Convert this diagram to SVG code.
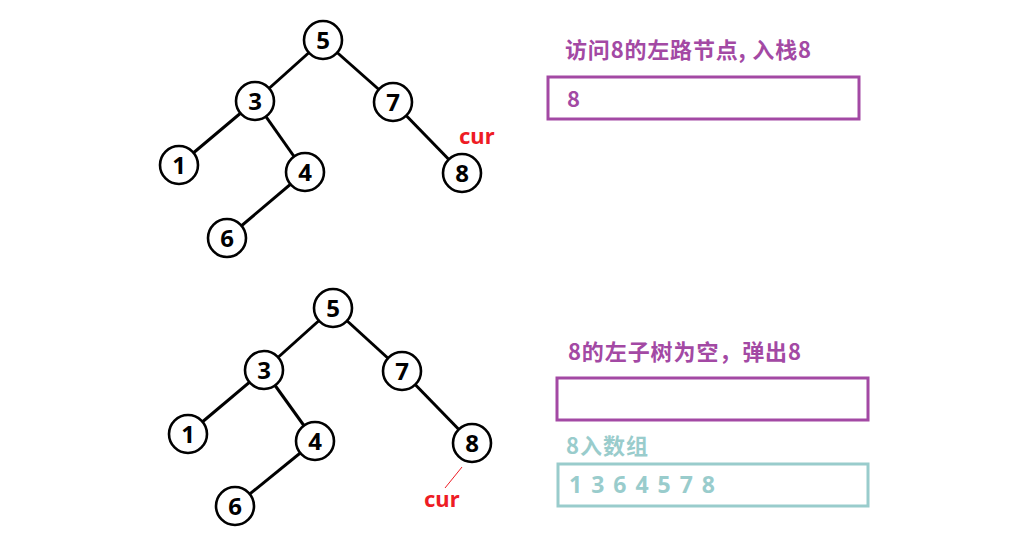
<svg xmlns="http://www.w3.org/2000/svg" width="1025" height="538" viewBox="0 0 1025 538">
<style>
.node circle{fill:#fff;stroke:#000;stroke-width:2.6}
.node text{font-family:"Noto Sans","Liberation Sans",sans-serif;font-weight:bold;font-size:24px;fill:#000;text-anchor:middle}
.edges line{stroke:#000;stroke-width:3}
.cur{font-family:"Noto Sans","Liberation Sans",sans-serif;font-weight:bold;font-size:22px;fill:#ee1c25}
.lbl{font-family:"Noto Sans CJK SC","Noto Sans",sans-serif;font-weight:bold;font-size:22px}
.purple{fill:#a349a4}
.teal{fill:#99cccc}
.box{fill:#fff;stroke-width:3}
</style>
<rect width="1025" height="538" fill="#fff"/>
<!-- top tree -->
<g class="edges" id="edges-top">
<line x1="323" y1="40" x2="255" y2="101"/>
<line x1="323" y1="40" x2="393" y2="102"/>
<line x1="255" y1="101" x2="179" y2="165"/>
<line x1="255" y1="101" x2="305" y2="172"/>
<line x1="393" y1="102" x2="462" y2="173"/>
<line x1="305" y1="172" x2="227" y2="238"/>
</g>
<g class="node" id="t5"><circle cx="323" cy="40" r="19"/><text x="323" y="48.5">5</text></g>
<g class="node" id="t3"><circle cx="255" cy="101" r="19"/><text x="255" y="109.5">3</text></g>
<g class="node" id="t7"><circle cx="393" cy="102" r="19"/><text x="393" y="110.5">7</text></g>
<g class="node" id="t1"><circle cx="179" cy="165" r="19"/><text x="179" y="173.5">1</text></g>
<g class="node" id="t4"><circle cx="305" cy="172" r="19"/><text x="305" y="180.5">4</text></g>
<g class="node" id="t8"><circle cx="462" cy="173" r="19"/><text x="462" y="181.5">8</text></g>
<g class="node" id="t6"><circle cx="227" cy="238" r="19"/><text x="227" y="246.5">6</text></g>
<text class="cur" x="459" y="144">cur</text>

<g id="stack-top">
<text class="lbl purple" x="565" y="58" textLength="246">访问8的左路节点, 入栈8</text>
<rect class="box" x="548" y="77" width="311" height="42" stroke="#a349a4"/>
<text class="lbl purple" x="567" y="107">8</text>
</g>

<!-- bottom tree -->
<g class="edges" id="edges-bottom">
<line x1="333" y1="308" x2="264" y2="370"/>
<line x1="333" y1="308" x2="402" y2="371"/>
<line x1="264" y1="370" x2="188" y2="434"/>
<line x1="264" y1="370" x2="315" y2="441"/>
<line x1="402" y1="371" x2="472" y2="443"/>
<line x1="315" y1="441" x2="235" y2="506"/>
<line x1="462" y1="467" x2="445" y2="488" style="stroke:#ee1c25;stroke-width:1"/>
</g>
<g class="node" id="b5"><circle cx="333" cy="308" r="19"/><text x="333" y="316.5">5</text></g>
<g class="node" id="b3"><circle cx="264" cy="370" r="19"/><text x="264" y="378.5">3</text></g>
<g class="node" id="b7"><circle cx="402" cy="371" r="19"/><text x="402" y="379.5">7</text></g>
<g class="node" id="b1"><circle cx="188" cy="434" r="19"/><text x="188" y="442.5">1</text></g>
<g class="node" id="b4"><circle cx="315" cy="441" r="19"/><text x="315" y="449.5">4</text></g>
<g class="node" id="b8"><circle cx="472" cy="443" r="19"/><text x="472" y="451.5">8</text></g>
<g class="node" id="b6"><circle cx="235" cy="506" r="19"/><text x="235" y="514.5">6</text></g>
<text class="cur" x="424" y="507">cur</text>

<g id="stack-bottom">
<text class="lbl purple" x="568" y="360" textLength="233">8的左子树为空，弹出8</text>
<rect class="box" x="557" y="378" width="311" height="42" stroke="#a349a4"/>
</g>
<g id="array">
<text class="lbl teal" x="566" y="454" textLength="82">8入数组</text>
<rect class="box" x="558" y="464" width="310" height="42" stroke="#99cccc"/>
<text class="lbl teal" x="569" y="493" textLength="146" style="font-family:'Noto Sans','Liberation Sans',sans-serif;font-size:23px">1 3 6 4 5 7 8</text>
</g>
</svg>
